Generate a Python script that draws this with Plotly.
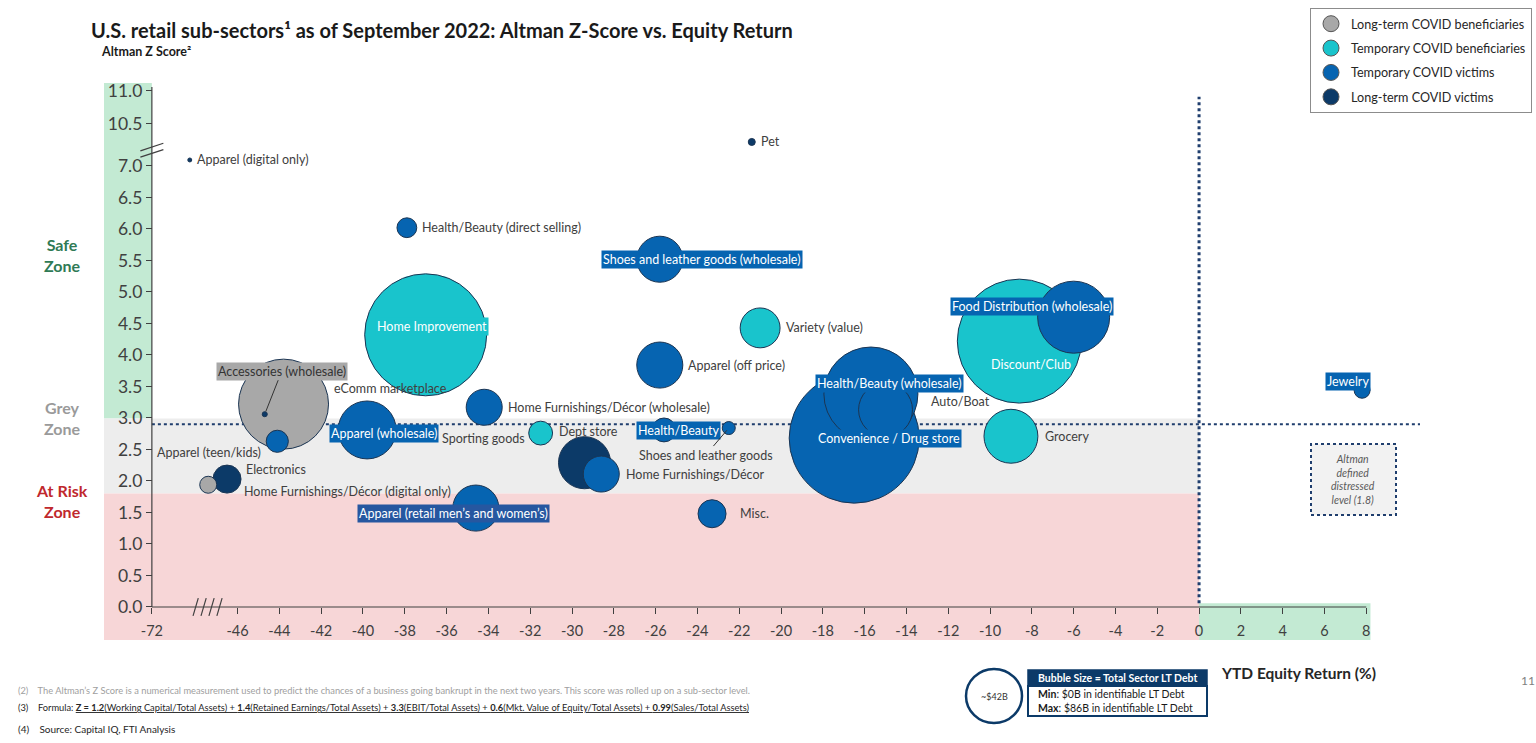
import plotly.graph_objects as go

W, H = 1536, 743

# ---------------- data ----------------
sectors = [
    "Apparel (digital only)", "Pet", "Health/Beauty (direct selling)",
    "Shoes and leather goods (wholesale)", "Home Improvement", "Variety (value)",
    "Apparel (off price)", "Accessories (wholesale)", "eComm marketplace",
    "Apparel (teen/kids)", "Home Furnishings/Décor (wholesale)", "Apparel (wholesale)",
    "Sporting goods", "Dept store", "Home Furnishings/Décor", "Health/Beauty",
    "Shoes and leather goods", "Misc.", "Apparel (retail men’s and women’s)",
    "Electronics", "Home Furnishings/Décor (digital only)", "Convenience / Drug store",
    "Health/Beauty (wholesale)", "Auto/Boat", "Food Distribution (wholesale)",
    "Discount/Club", "Grocery", "Jewelry",
]
ytd_return = [
    -60.5, -21.4, -37.9,
    -25.8, -37.0, -21.0,
    -25.8, -44.7, -43.8,
    -44.1, -34.2, -39.8,
    -31.5, -29.4, -28.6, -25.6,
    -22.5, -23.3, -34.6,
    -49.2, -54.9, -16.5,
    -15.7, -15.0, -6.0,
    -8.6, -9.0, 7.8,
]
z_score = [
    7.5, 9.0, 6.02,
    5.52, 4.32, 4.43,
    3.84, 3.06, 3.22,
    2.63, 3.17, 2.81,
    2.76, 2.29, 2.11, 2.81,
    2.84, 1.48, 1.57,
    2.03, 1.94, 2.68,
    3.38, 3.13, 4.60,
    4.22, 2.71, 3.44,
]
lt_debt_bn = [
    0.08, 0.25, 2.0,
    10.8, 75.7, 8.1,
    10.8, 0.13, 41.2,
    2.5, 6.6, 17.1,
    2.9, 13.8, 6.6, 2.9,
    0.86, 4.0, 10.8,
    4.0, 1.47, 86.0,
    45.0, 14.8, 26.4,
    78.2, 14.8, 1.3,
]
LTB, TB, TV, LTV = ("Long-term COVID beneficiaries", "Temporary COVID beneficiaries",
                    "Temporary COVID victims", "Long-term COVID victims")
category = [
    LTV, LTV, TV,
    TV, TB, TB,
    TV, LTV, LTB,
    TV, TV, TV,
    TB, LTV, TV, TV,
    TV, TV, TV,
    LTV, LTB, TV,
    TV, TV, TV,
    TB, TB, TV,
]
legend_order = [LTB, TB, TV, LTV]

x_tick_values = [-72] + list(range(-46, 9, 2))
y_tick_values = [0.0, 0.5, 1.0, 1.5, 2.0, 2.5, 3.0, 3.5, 4.0, 4.5, 5.0, 5.5, 6.0, 6.5, 7.0, 10.5, 11.0]
distress_level = 1.8
grey_top = 2.99
grey_line = 2.9

# ---------------- styles ----------------
COLORS = {LTB: "#A8A8A8", TB: "#19C4CC", TV: "#0664B1", LTV: "#0C3A68"}
OUTLINE = "#1B3553"
TXT = "#404040"
NAVY = "#1F3E6E"
FONT = "Lato"
LABEL_SIZE = 12.5

# axis-break transforms (broken axes)
X_LEFT_DISP = -50.1
def xd(v):
    if v >= -46:
        return v
    return X_LEFT_DISP + (v + 72) * (-46 - X_LEFT_DISP) / 26.0

def yd(v):
    if v <= 7:
        return v
    if v <= 10.5:
        return 7 + (v - 7) * (0.667 / 3.5)
    return 7.667 + (v - 10.5) * 1.05

# plot area in pixels and the axis ranges in display units
PX_L, PX_R, PX_T, PX_B = 104, 1420, 83, 640
XR = [-52.39, 10.57]
YR = [-0.524, 8.317]
dom_x = [PX_L / W, PX_R / W]
dom_y = [1 - PX_B / H, 1 - PX_T / H]

def paper_x_of(v):
    return dom_x[0] + (v - XR[0]) / (XR[1] - XR[0]) * (dom_x[1] - dom_x[0])

def paper_y_of(v):
    return dom_y[0] + (v - YR[0]) / (YR[1] - YR[0]) * (dom_y[1] - dom_y[0])

def px(p):
    return p / W

def py(p):
    return 1 - p / H

# label placement/style table (pixel offsets from bubble centre)
LABELS = {
    "Apparel (digital only)": (5, 0, "left", "plain"),
    "Pet": (7, 0, "left", "plain"),
    "Health/Beauty (direct selling)": (13, 0, "left", "plain"),
    "Shoes and leather goods (wholesale)": (42, 0, "center", "blue"),
    "Home Improvement": (6, -8, "center", "cyan"),
    "Variety (value)": (24, 0, "left", "plain"),
    "Apparel (off price)": (26, 0, "left", "plain"),
    "eComm marketplace": (48, -16, "left", "plain"),
    "Apparel (teen/kids)": (-14, 11, "right", "plain"),
    "Home Furnishings/Décor (wholesale)": (22, 0, "left", "plain"),
    "Apparel (wholesale)": (17, 4, "center", "blue"),
    "Sporting goods": (-14, 5, "right", "plain"),
    "Dept store": (-28, -31, "left", "plain"),
    "Home Furnishings/Décor": (23, 0, "left", "plain"),
    "Health/Beauty": (15, 1, "center", "blue"),
    "Misc.": (26, 0, "left", "plain"),
    "Apparel (retail men’s and women’s)": (-22, 5, "center", "midblue"),
    "Electronics": (17, -10, "left", "plain"),
    "Home Furnishings/Décor (digital only)": (34, 7, "left", "plain"),
    "Convenience / Drug store": (35, 0, "center", "blue"),
    "Health/Beauty (wholesale)": (19, -11, "center", "blue"),
    "Auto/Boat": (43, -8, "left", "plain"),
    "Food Distribution (wholesale)": (-42, -11, "center", "blue"),
    "Discount/Club": (12, 23, "center", "white"),
    "Grocery": (32, 0, "left", "plain"),
    "Jewelry": (-14, -9, "center", "blue"),
}
ARROW_LABELS = {
    "Accessories (wholesale)": (17, -43, "grey"),
    "Shoes and leather goods": (-23, 27, "plain"),
}
LABEL_STYLES = {
    "plain": dict(bg=None, color=TXT),
    "blue": dict(bg="#0664B1", color="white"),
    "midblue": dict(bg="#2657A0", color="white"),
    "cyan": dict(bg="#19C4CC", color="white"),
    "grey": dict(bg="#A8A8A8", color="#333333"),
    "white": dict(bg=None, color="white"),
}

# ---------------- figure ----------------
fig = go.Figure()

order = sorted(range(len(sectors)), key=lambda i: -lt_debt_bn[i])
max_diam = 130
fig.add_trace(go.Scatter(
    x=[xd(ytd_return[i]) for i in order],
    y=[yd(z_score[i]) for i in order],
    mode="markers",
    text=[sectors[i] for i in order],
    hoverinfo="text",
    showlegend=False,
    marker=dict(
        size=[lt_debt_bn[i] for i in order],
        sizemode="area",
        sizeref=2 * max(lt_debt_bn) / max_diam ** 2,
        color=[COLORS[category[i]] for i in order],
        line=dict(color=OUTLINE, width=1),
        opacity=1,
    ),
))

for c in legend_order:
    fig.add_trace(go.Scatter(
        x=[None], y=[None], mode="markers", name=c, legendgroup=c,
        marker=dict(size=16, color=COLORS[c], line=dict(color="#555555", width=1)),
    ))

shapes = []
x_axis0 = xd(-72)
# zone bands
shapes.append(dict(type="rect", xref="x", yref="y", x0=XR[0], x1=x_axis0, y0=grey_top, y1=YR[1],
                   fillcolor="#C3EAD3", line_width=0, layer="below"))
shapes.append(dict(type="rect", xref="x", yref="y", x0=XR[0], x1=0, y0=distress_level, y1=grey_top,
                   fillcolor="#EDEDED", line_width=0, layer="below"))
shapes.append(dict(type="rect", xref="x", yref="y", x0=XR[0], x1=0, y0=YR[0], y1=distress_level,
                   fillcolor="#F7D6D7", line_width=0, layer="below"))
shapes.append(dict(type="rect", xref="x", yref="y", x0=0, x1=8.2, y0=YR[0], y1=0.06,
                   fillcolor="#C3EAD3", line_width=0, layer="below"))
# reference lines
shapes.append(dict(type="line", xref="x", yref="y", x0=x_axis0, x1=XR[1], y0=grey_line, y1=grey_line,
                   line=dict(color=NAVY, width=2, dash="dot"), layer="below"))
shapes.append(dict(type="line", xref="x", yref="y", x0=0, x1=0, y0=0.06, y1=8.1,
                   line=dict(color=NAVY, width=3, dash="dot"), layer="below"))
# axis lines
shapes.append(dict(type="line", xref="x", yref="y", x0=x_axis0, x1=x_axis0, y0=0, y1=yd(11.0) + 0.06,
                   line=dict(color=TXT, width=1.2)))
shapes.append(dict(type="line", xref="x", yref="y", x0=x_axis0, x1=8, y0=0, y1=0,
                   line=dict(color=TXT, width=1.2)))
# axis break marks
for k in range(2):
    yb = 7.2 + 0.1 * k
    shapes.append(dict(type="line", xref="x", yref="y", x0=x_axis0 - 0.55, x1=x_axis0 + 0.55,
                       y0=yb - 0.06, y1=yb + 0.06, line=dict(color=TXT, width=1.2)))
for k in range(4):
    xb = -48.13 + 0.38 * k
    shapes.append(dict(type="line", xref="x", yref="y", x0=xb, x1=xb + 0.25,
                       y0=-0.14, y1=0.14, line=dict(color=TXT, width=1.2)))
# Altman distressed-level box
shapes.append(dict(type="rect", xref="paper", yref="paper", x0=px(1311), x1=px(1396), y0=py(515), y1=py(444),
                   fillcolor="#F2F2F2", line=dict(color=NAVY, width=2, dash="dot")))
# bubble-size key
shapes.append(dict(type="circle", xref="paper", yref="paper", x0=px(966), x1=px(1022), y0=py(723), y1=py(669),
                   line=dict(color="#0C3A68", width=2.5), fillcolor="white"))
shapes.append(dict(type="rect", xref="paper", yref="paper", x0=px(1028), x1=px(1207), y0=py(686), y1=py(670),
                   fillcolor="#0C3A68", line=dict(color="#0C3A68", width=1.5)))
shapes.append(dict(type="rect", xref="paper", yref="paper", x0=px(1028), x1=px(1207), y0=py(716), y1=py(686),
                   fillcolor="white", line=dict(color="#0C3A68", width=2)))

annotations = []
# bubble labels
for i, s in enumerate(sectors):
    xv, yv = xd(ytd_return[i]), yd(z_score[i])
    if s in LABELS:
        dx, dy, anchor, st = LABELS[s]
        sty = LABEL_STYLES[st]
        annotations.append(dict(
            x=xv, y=yv, xref="x", yref="y", text=s, showarrow=False,
            xanchor=anchor, yanchor="middle", xshift=dx, yshift=-dy,
            font=dict(family=FONT, size=LABEL_SIZE, color=sty["color"]),
            bgcolor=sty["bg"], borderpad=1,
        ))
    elif s in ARROW_LABELS:
        ax, ay, st = ARROW_LABELS[s]
        sty = LABEL_STYLES[st]
        annotations.append(dict(
            x=xv, y=yv, xref="x", yref="y", text=s, showarrow=True,
            ax=ax, ay=ay, arrowhead=0, arrowwidth=1, arrowcolor="#333333", standoff=3,
            font=dict(family=FONT, size=LABEL_SIZE, color=sty["color"]),
            bgcolor=sty["bg"], borderpad=1,
        ))

def note(text, x, y, size, color=TXT, anchor="left", bold=False, **kw):
    annotations.append(dict(
        x=px(x), y=py(y), xref="paper", yref="paper", text=(f"<b>{text}</b>" if bold else text),
        showarrow=False, xanchor=anchor, yanchor="middle",
        font=dict(family=FONT, size=size, color=color), **kw))

note("U.S. retail sub-sectors¹ as of September 2022: Altman Z-Score vs. Equity Return", 89, 30, 20,
     color="#1A1A1A", bold=True)
note("Altman Z Score²", 99, 52, 12.5, color="#1A1A1A", bold=True)
note("Safe<br>Zone", 62, 255, 16, color="#2F7A55", anchor="center", bold=True)
note("Grey<br>Zone", 62, 418, 16, color="#9A9A9A", anchor="center", bold=True)
note("At Risk<br>Zone", 62, 501, 16, color="#C0282D", anchor="center", bold=True)
note("YTD Equity Return (%)", 1298, 673, 15.5, color="#262626", anchor="center", bold=True)
note("11", 1528, 680, 12, color="#7F7F7F", anchor="center")
note("<i>Altman<br>defined<br>distressed<br>level (1.8)</i>", 1353, 480, 10.5, color="#595959", anchor="center")
note("~$42B", 994, 696, 9, color="#333333", anchor="center")
note("Bubble Size = Total Sector LT Debt", 1117, 678, 10.5, color="white", anchor="center", bold=True)
note("<b>Min</b>: $0B in identifiable LT Debt", 1036, 694, 10.5, color="#1A1A1A")
note("<b>Max</b>: $86B in identifiable LT Debt", 1036, 708, 10.5, color="#1A1A1A")
note("(2)    The Altman’s Z Score is a numerical measurement used to predict the chances of a business going "
     "bankrupt in the next two years. This score was rolled up on a sub-sector level.", 16, 690, 9.3,
     color="#A0A0A0")
note("(3)    Formula: <u><b>Z = 1.2</b>(Working Capital/Total Assets) + <b>1.4</b>(Retained Earnings/Total Assets) + "
     "<b>3.3</b>(EBIT/Total Assets) + <b>0.6</b>(Mkt. Value of Equity/Total Assets) + <b>0.99</b>(Sales/Total Assets)</u>",
     16, 707, 9.3, color="#262626")
note("(4)    Source: Capital IQ, FTI Analysis", 16, 729, 10, color="#262626")

fig.update_layout(
    width=W, height=H, autosize=False,
    margin=dict(l=0, r=0, t=0, b=0, autoexpand=False),
    paper_bgcolor="white", plot_bgcolor="rgba(0,0,0,0)",
    font=dict(family=FONT, color=TXT),
    shapes=shapes, annotations=annotations,
    showlegend=True,
    legend=dict(
        x=px(1310), y=py(8), xanchor="left", yanchor="top",
        bgcolor="white", bordercolor="#8C8C8C", borderwidth=1,
        font=dict(family=FONT, size=12.6, color="#262626"),
        itemsizing="trace", traceorder="grouped", tracegroupgap=5,
    ),
    xaxis=dict(
        domain=dom_x, range=XR, anchor="free", position=paper_y_of(0),
        tickmode="array", tickvals=[xd(v) for v in x_tick_values],
        ticktext=[str(v) for v in x_tick_values],
        ticks="outside", ticklen=6, tickcolor=TXT, showline=False, showgrid=False, zeroline=False,
        tickfont=dict(family=FONT, size=14.5, color=TXT), ticklabelstandoff=5, automargin=False,
    ),
    yaxis=dict(
        domain=dom_y, range=YR, anchor="free", position=paper_x_of(x_axis0),
        tickmode="array", tickvals=[yd(v) for v in y_tick_values],
        ticktext=[f"{v:.1f}" for v in y_tick_values],
        ticks="outside", ticklen=6, tickcolor=TXT, showline=False, showgrid=False, zeroline=False,
        tickfont=dict(family=FONT, size=17.5, color=TXT), automargin=False,
    ),
)

fig.write_html("out.html")
